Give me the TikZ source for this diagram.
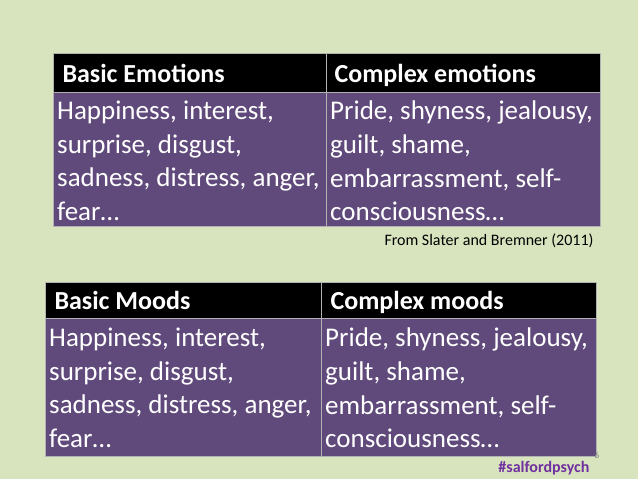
\documentclass[tikz,border=0pt]{standalone}
\usepackage{fontspec}
\setmainfont{Carlito}
\definecolor{bgc}{HTML}{D8E4BE}
\definecolor{purp}{HTML}{604A7B}
\definecolor{tag}{HTML}{7030A0}
\begin{document}
\begin{tikzpicture}[x=1pt,y=-1pt,
  head/.style={anchor=base west,text=white,font=\fontsize{26}{30}\selectfont\bfseries},
  body/.style={anchor=north west,text=white,align=left,inner sep=2pt,font=\fontsize{27}{33.6}\selectfont},
  cellh/.style={fill=black,draw=white!70!black,line width=0.6pt},
  cellb/.style={fill=purp,draw=white!70!black,line width=0.6pt}]
\fill[bgc] (0,0) rectangle (638,479);
\useasboundingbox (0,0) rectangle (638,479);
% table 1
\filldraw[cellh] (53,53) rectangle (326,92);
\filldraw[cellh] (326,53) rectangle (600,92);
\filldraw[cellb] (53,92) rectangle (326,226);
\filldraw[cellb] (326,92) rectangle (600,226);
\node[head] (h1) at (59,82) {Basic Emotions};
\node[head] (h2) at (331,82) {Complex emotions};
\node[body] (b1) at (55,99) {Happiness, interest,\\surprise, disgust,\\sadness, distress, anger,\\fear…};
\node[body] (b2) at (328,99) {Pride, shyness, jealousy,\\guilt, shame,\\embarrassment, self-\\consciousness…};
\node[font=\fontsize{16}{18}\selectfont] (cap) at (489,241) {From Slater and Bremner (2011)};
% table 2
\filldraw[cellh] (45,282) rectangle (321,318);
\filldraw[cellh] (321,282) rectangle (596,318);
\filldraw[cellb] (45,318) rectangle (321,456);
\filldraw[cellb] (321,318) rectangle (596,456);
\node[head] (h3) at (51,309) {Basic Moods};
\node[head] (h4) at (327,309) {Complex moods};
\node[body] (b3) at (47,326) {Happiness, interest,\\surprise, disgust,\\sadness, distress, anger,\\fear…};
\node[body] (b4) at (323,326) {Pride, shyness, jealousy,\\guilt, shame,\\embarrassment, self-\\consciousness…};
\node[font=\fontsize{9}{10}\selectfont,text=gray] (pg) at (597,455) {6};
\node[font=\fontsize{16}{18}\selectfont\bfseries,text=tag,anchor=east] (tg) at (593,468) {\#salfordpsych};
\end{tikzpicture}
\end{document}
